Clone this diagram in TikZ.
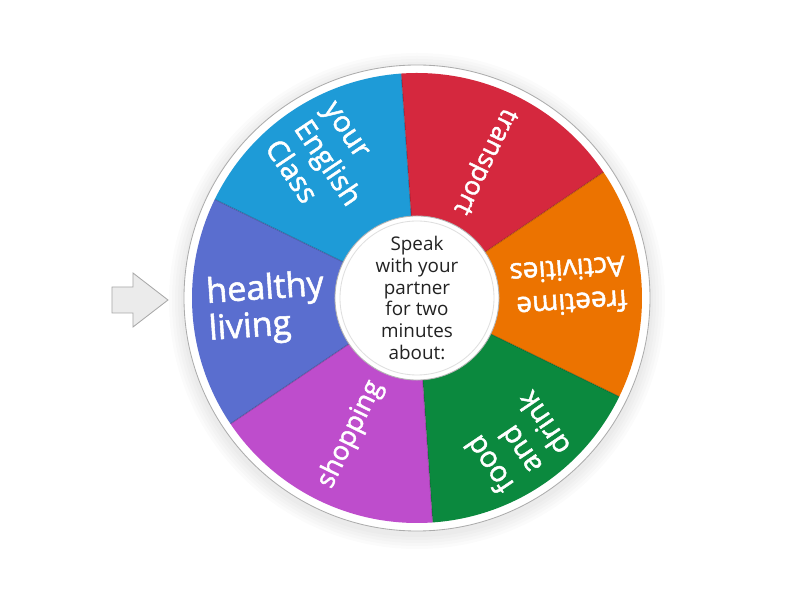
\documentclass[tikz,border=0pt]{standalone}
\usepackage{fontspec}
\setmainfont{Open Sans}
\newfontfamily\slicefont{Open Sans}[FakeBold=1.6]
\usepackage{tikz}
\usetikzlibrary{positioning}
\definecolor{engblue}{RGB}{30,155,215}
\definecolor{transred}{RGB}{213,40,62}
\definecolor{freeorg}{RGB}{236,115,0}
\definecolor{foodgreen}{RGB}{11,137,62}
\definecolor{shoppurple}{RGB}{190,77,204}
\definecolor{healthviolet}{RGB}{90,110,207}
\definecolor{hubtext}{RGB}{34,34,34}
\definecolor{arrowfill}{RGB}{235,235,235}
\definecolor{arrowedge}{RGB}{168,168,168}
\newcommand{\labelsize}[2]{\fontsize{#1}{#2}\selectfont}

\begin{document}
\begin{tikzpicture}[scale=0.025,
  slicetext/.style={anchor=west, inner sep=0pt, text=white, align=left},
  divider/.style={black, opacity=0.2, line width=0.8pt}]
\useasboundingbox (-417,-302) rectangle (383,298);
% Soft shadow round the wheel
\foreach \r in {248,245,...,234} \fill[black, opacity=0.014] (0,-3) circle (\r);
% Rim
\fill[white] (0,0) circle (233);
\draw[gray!65, line width=0.6pt] (0,0) circle (233);
% Slices
\fill[engblue] (0,0) -- (94:225) arc[start angle=94, end angle=154, radius=225] -- cycle;
\fill[transred] (0,0) -- (34:225) arc[start angle=34, end angle=94, radius=225] -- cycle;
\fill[freeorg] (0,0) -- (-26:225) arc[start angle=-26, end angle=34, radius=225] -- cycle;
\fill[foodgreen] (0,0) -- (-86:225) arc[start angle=-86, end angle=-26, radius=225] -- cycle;
\fill[shoppurple] (0,0) -- (-146:225) arc[start angle=-146, end angle=-86, radius=225] -- cycle;
\fill[healthviolet] (0,0) -- (154:225) arc[start angle=154, end angle=214, radius=225] -- cycle;
% Dividers
\draw[divider] (94:80) -- (94:225);
\draw[divider] (34:80) -- (34:225);
\draw[divider] (-26:80) -- (-26:225);
\draw[divider] (-86:80) -- (-86:225);
\draw[divider] (-146:80) -- (-146:225);
\draw[divider] (154:80) -- (154:225);
% Slice labels
\node[slicetext, rotate=-56, font=\slicefont\labelsize{20.6}{24.9}] (english) at (124:210) {your\\English\\Class};
\node[slicetext, rotate=244, font=\slicefont\labelsize{18.6}{23}] (transport) at (64:210) {transport};
\node[slicetext, rotate=184, font=\slicefont\labelsize{20}{24.2}] (freetime) at (4:210) {freetime\\Activities};
\node[slicetext, rotate=124, font=\slicefont\labelsize{20.6}{24.2}] (food) at (-56:210) {food\\and\\drink};
\node[slicetext, rotate=64, font=\slicefont\labelsize{19}{23}] (shopping) at (-116:210) {shopping};
\node[slicetext, rotate=4, font=\slicefont\labelsize{24.2}{26.3}] (healthy) at (184:210) {healthy\\living};
% Hub
\node[circle, draw=gray!60, fill=white, line width=0.6pt, minimum size=4.1cm, inner sep=0pt,
  align=center, text=hubtext, font=\labelsize{13.4}{15.4}] (hub) at (0,0)
  {Speak\\with your\\partner\\for two\\minutes\\about:};
\draw[gray!25, line width=0.6pt] (hub.center) circle (77);
% Pointer
\draw[draw=arrowedge, fill=arrowfill, line width=0.6pt] (-305,11) -- (-284,11) -- (-284,25)
  -- (-249,-2) -- (-284,-29) -- (-284,-15) -- (-305,-15) -- cycle;
\end{tikzpicture}
\end{document}
